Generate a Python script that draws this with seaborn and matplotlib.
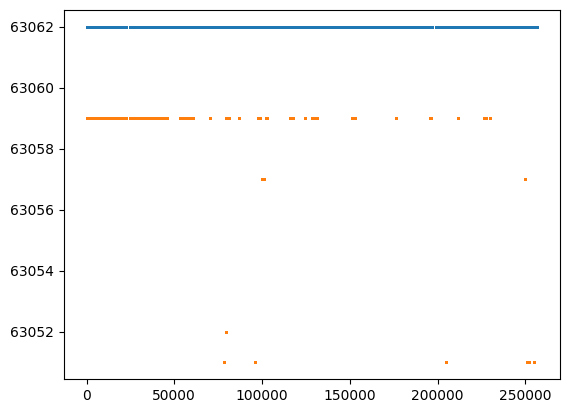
import matplotlib
matplotlib.use("Agg")
import matplotlib.pyplot as plt
import seaborn as sns
import pandas as pd

# Blue series: runs of constant value (start x, end x)
blue_value = 63062
blue_start = [0, 24700, 199200]
blue_end = [22500, 197000, 256900]

# Orange series: runs (value, start x, end x)
orange_value = [63059, 63059, 63059, 63059, 63059, 63059, 63059, 63059, 63059,
                63059, 63059, 63059, 63059, 63059, 63059, 63059, 63059,
                63057, 63057,
                63052,
                63051, 63051, 63051, 63051, 63051]
orange_start = [0, 24900, 53400, 70500, 79600, 87000, 97900, 102400, 116100,
                124700, 128600, 151400, 176500, 195900, 211900, 226700, 230100,
                100100, 250000,
                79500,
                78300, 96200, 205000, 251200, 255200]
orange_end = [22600, 46000, 60800, 70500, 81300, 87000, 99000, 103000, 117800,
              124700, 131500, 153200, 176500, 196500, 211900, 227300, 230100,
              101300, 250000,
              79500,
              78300, 96200, 205000, 251800, 255200]


def runs_frame(values, starts, ends):
    rows = []
    for i, (v, s, e) in enumerate(zip(values, starts, ends)):
        rows.append({"x": s, "y": v, "run": i})
        rows.append({"x": e, "y": v, "run": i})
    return pd.DataFrame(rows)


blue_df = runs_frame([blue_value] * len(blue_start), blue_start, blue_end)
orange_df = runs_frame(orange_value, orange_start, orange_end)

fig = plt.figure(figsize=(5.69, 4.13), dpi=100)
ax = fig.add_axes([64 / 569, 34 / 413, 496 / 569, 369 / 413])

lw = 2.16
for df, col in [(blue_df, "C0"), (orange_df, "C1")]:
    sns.lineplot(data=df, x="x", y="y", units="run", estimator=None,
                 color=col, linewidth=lw, solid_capstyle="butt", ax=ax,
                 legend=False)
    sns.scatterplot(data=df, x="x", y="y", marker="s", s=lw * lw,
                    color=col, linewidth=0, ax=ax, legend=False)

ax.set_xlabel("")
ax.set_ylabel("")
ax.ticklabel_format(useOffset=False, style="plain")
ax.set_yticks([63052, 63054, 63056, 63058, 63060, 63062])
ax.set_xticks([0, 50000, 100000, 150000, 200000, 250000])

fig.savefig("out.png", dpi=100)
